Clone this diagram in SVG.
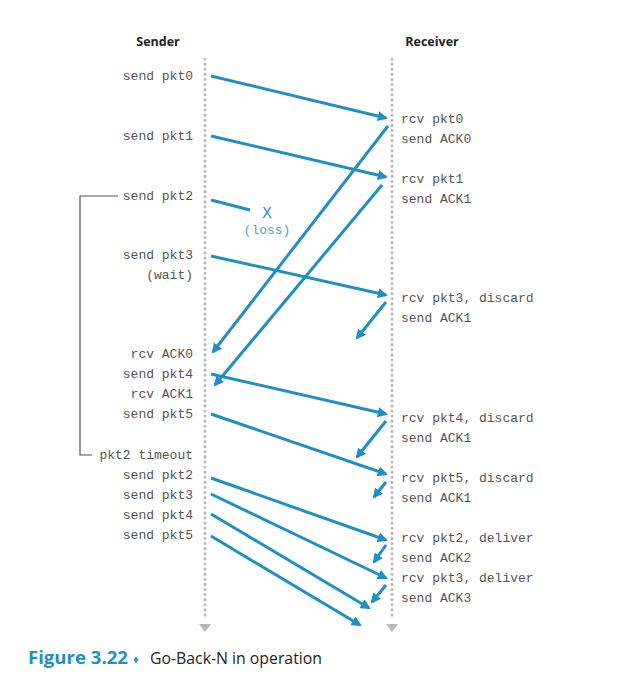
<svg xmlns="http://www.w3.org/2000/svg" width="622" height="677" viewBox="0 0 622 677">
<style>
.m{font-family:"Liberation Mono","Courier New",monospace;font-size:13px;fill:#555}
.s{text-anchor:end}
.h{font-family:"Open Sans","Liberation Sans",sans-serif;font-weight:bold;font-size:12.5px;fill:#222;text-anchor:middle}
.tl{stroke:#b8b8b8;stroke-width:3;stroke-dasharray:0.1 5;stroke-linecap:round;fill:none}
.a{stroke:#1f8fc4;stroke-width:3;fill:none;marker-end:url(#ah)}
</style>
<defs>
<marker id="ah" viewBox="0 0 10 10" refX="8" refY="5" markerWidth="3.4" markerHeight="3.4" orient="auto" markerUnits="strokeWidth"><path d="M0,0L10,5L0,10z" fill="#1f8fc4"/></marker>
</defs>
<rect width="622" height="677" fill="#fff"/>
<g id="timelines">
<path class="tl" d="M205,59V620M392,59V620"/>
<path d="M199,624h12l-6,8z M386,624h12l-6,8z" fill="#b8b8b8"/>
</g>
<text class="h" x="158" y="46">Sender</text>
<text class="h" x="432" y="46">Receiver</text>
<g id="sender-labels">
<text class="m s" x="193" y="80">send pkt0</text>
<text class="m s" x="193" y="140">send pkt1</text>
<text class="m s" x="193" y="200">send pkt2</text>
<text class="m s" x="193" y="259">send pkt3</text>
<text class="m s" x="193" y="279">(wait)</text>
<text class="m s" x="193" y="358">rcv ACK0</text>
<text class="m s" x="193" y="378">send pkt4</text>
<text class="m s" x="193" y="398">rcv ACK1</text>
<text class="m s" x="193" y="418">send pkt5</text>
<text class="m s" x="193" y="459">pkt2 timeout</text>
<text class="m s" x="193" y="479">send pkt2</text>
<text class="m s" x="193" y="499">send pkt3</text>
<text class="m s" x="193" y="519">send pkt4</text>
<text class="m s" x="193" y="539">send pkt5</text>
</g>
<g id="receiver-labels">
<text class="m" x="401" y="123">rcv pkt0</text>
<text class="m" x="401" y="143">send ACK0</text>
<text class="m" x="401" y="183">rcv pkt1</text>
<text class="m" x="401" y="203">send ACK1</text>
<text class="m" x="401" y="302">rcv pkt3, discard</text>
<text class="m" x="401" y="322">send ACK1</text>
<text class="m" x="401" y="422">rcv pkt4, discard</text>
<text class="m" x="401" y="442">send ACK1</text>
<text class="m" x="401" y="482">rcv pkt5, discard</text>
<text class="m" x="401" y="502">send ACK1</text>
<text class="m" x="401" y="542">rcv pkt2, deliver</text>
<text class="m" x="401" y="562">send ACK2</text>
<text class="m" x="401" y="582">rcv pkt3, deliver</text>
<text class="m" x="401" y="602">send ACK3</text>
</g>
<g id="timeout-bracket"><path d="M118,196H80V455H92" stroke="#555" stroke-width="1.2" fill="none"/></g>
<g id="loss">
<text x="267" y="218" font-family="Liberation Mono,Courier New,monospace" font-size="16" fill="#1f8fc4" text-anchor="middle">X</text>
<text x="267" y="234" class="m" style="fill:#4aa3d4" text-anchor="middle">(loss)</text>
</g>
<g id="connectors">
<path class="a" d="M211,76L386,118"/>
<path class="a" d="M211,136L386,177"/>
<path d="M211,200L250,210" stroke="#1f8fc4" stroke-width="3"/>
<path class="a" d="M211,256L386,295"/>
<path class="a" d="M388,126L213,352"/>
<path class="a" d="M382,185L215,385"/>
<path class="a" d="M386,302L357,338"/>
<path class="a" d="M211,374L386,414"/>
<path class="a" d="M386,421L357,457"/>
<path class="a" d="M211,414L386,474"/>
<path class="a" d="M386,482L374,497"/>
<path class="a" d="M211,478L386,540"/>
<path class="a" d="M386,545L374,562"/>
<path class="a" d="M211,494L386,578"/>
<path class="a" d="M386,585L372,602"/>
<path class="a" d="M211,514L369,608"/>
<path class="a" d="M211,536L360,625"/>
</g>
<text x="28" y="664" font-family="Open Sans,Liberation Sans,sans-serif" font-size="17" font-weight="bold" fill="#1f8fc4" textLength="100" lengthAdjust="spacingAndGlyphs">Figure 3.22</text>
<text x="133" y="663" font-family="Open Sans,Liberation Sans,sans-serif" font-size="11" fill="#1f8fc4">♦</text>
<text x="150" y="664" font-family="Open Sans,Liberation Sans,sans-serif" font-size="15.5" fill="#222" textLength="172" lengthAdjust="spacingAndGlyphs">Go-Back-N in operation</text>
</svg>
